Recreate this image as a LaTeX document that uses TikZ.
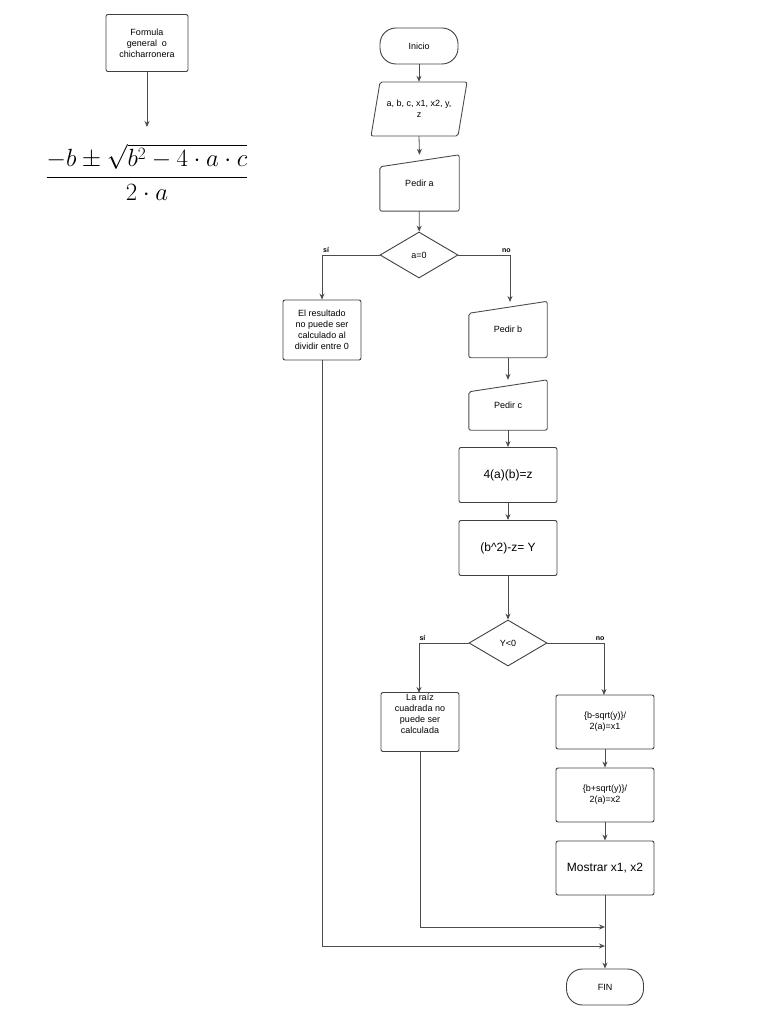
\documentclass[tikz,border=0pt]{standalone}
\usepackage{amsmath}
\usepackage{fontspec}
\setmainfont{Liberation Sans}
\usetikzlibrary{shapes.geometric,calc,arrows.meta}
\begin{document}
\begin{tikzpicture}[x=1pt,y=-1pt,
 box/.style={draw=black!75,line width=0.9pt,rounded corners=2pt,align=center,inner sep=1pt,font=\fontsize{9}{11}\selectfont},
 big/.style={font=\fontsize{12}{15}\selectfont},
 term/.style={draw=black!75,line width=0.9pt,rounded corners=16pt,minimum width=78pt,minimum height=36pt,font=\fontsize{9}{11}\selectfont},
 dia/.style={draw=black!75,line width=0.9pt,diamond,aspect=1.7,minimum width=78pt,minimum height=46pt,inner sep=0pt,font=\fontsize{9}{11}\selectfont},
 plain/.style={align=center,inner sep=0pt,font=\fontsize{9}{11}\selectfont},
 ln/.style={draw=black!70,line width=0.8pt},
 ar/.style={ln,-{Stealth[length=6pt,width=5pt]}},
 lab/.style={font=\bfseries\fontsize{7}{8}\selectfont}]
\useasboundingbox (0,0) rectangle (768,1024);
% formula
\node[box,minimum width=82pt,minimum height=57pt] (fg) at (147,43) {Formula\\general\ \ o\\chicharronera};
\node (fm) at (147,172) {\fontsize{26}{30}\selectfont$\dfrac{-b\pm\sqrt{b^2-4\cdot a\cdot c}}{2\cdot a}$};
\draw[ar] (fg.south) -- (147,127);
% main
\node[term] (ini) at (419,46) {Inicio};
\node[plain,minimum width=96pt,minimum height=54pt] (in) at (419,109) {a, b, c, x1, x2, y,\\z};
\draw[ln,line width=0.9pt,rounded corners=2pt] (380,82) -- (467,82) -- (458,136) -- (371,136) -- cycle;
\newcommand{\manual}[1]{\draw[ln,line width=0.9pt,rounded corners=2pt] (#1.south west) -- (#1.south east) -- (#1.north east) -- ($(#1.north west)+(0,12)$) -- cycle;}
\node[plain,minimum width=79pt,minimum height=56pt] (pa) at (419.5,183) {\raisebox{-2pt}{Pedir a}};
\manual{pa}
\node[dia] (d1) at (419,255) {a=0};
\node[box,minimum width=78pt,minimum height=60pt] (er) at (322,330) {El resultado\\no puede ser\\calculado al\\dividir entre 0};
\node[plain,minimum width=78pt,minimum height=56pt] (pb) at (508,329.5) {\raisebox{-2pt}{Pedir b}};
\manual{pb}
\node[plain,minimum width=78pt,minimum height=50pt] (pc) at (508,405) {\raisebox{-2pt}{Pedir c}};
\manual{pc}
\node[box,big,minimum width=98pt,minimum height=55pt] (z) at (508,475) {4(a)(b)=z};
\node[box,big,minimum width=98pt,minimum height=55pt] (y) at (508,548) {(b\^{}2)-z= Y};
\node[dia] (d2) at (508,643) {Y<0};
\node[box,minimum width=78pt,minimum height=59pt] (rz) at (420,722) {La raíz\\cuadrada no\\puede ser\\calculada\\[6pt]};
\node[box,minimum width=98pt,minimum height=54pt] (x1) at (605,722) {\{b-sqrt(y)\}/\\2(a)=x1};
\node[box,minimum width=98pt,minimum height=54pt] (x2) at (605,795) {\{b+sqrt(y)\}/\\2(a)=x2};
\node[box,big,minimum width=98pt,minimum height=54pt] (mo) at (605,868) {Mostrar x1, x2};
\node[term,minimum width=77pt] (fin) at (605,987) {FIN};
\coordinate (j1) at (605,927);
\coordinate (j2) at (605,946);
% connectors
\draw[ar] (ini) -- (in.north);
\draw[ar] (in.south) -- (pa.north);
\draw[ar] (pa) -- (d1);
\draw[ar] (d1.west) -- (322,255) node[lab,pos=0.93,above=-1pt] {sí} -- (er.north);
\draw[ar] (d1.east) -- (510,255) node[lab,pos=0.93,above=-1pt] {no} -- (510,302);
\draw[ar] (pb) -- (pc);
\draw[ar] (pc) -- (z);
\draw[ar] (z) -- (y);
\draw[ar] (y) -- (d2);
\draw[ar] (d2.west) -- (419,643) node[lab,pos=0.93,above=-1pt] {sí} -- (419,693);
\draw[ar] (d2.east) -- (604,643) node[lab,pos=0.93,above=-1pt] {no} -- (604,695);
\draw[ar] (x1) -- (x2);
\draw[ar] (x2) -- (mo);
\draw[ar] (mo) -- (fin);
\draw[ar] (rz.south) -- (420,927) -- (j1);
\draw[ar] (er.south) -- (322,946) -- (j2);
\end{tikzpicture}
\end{document}
